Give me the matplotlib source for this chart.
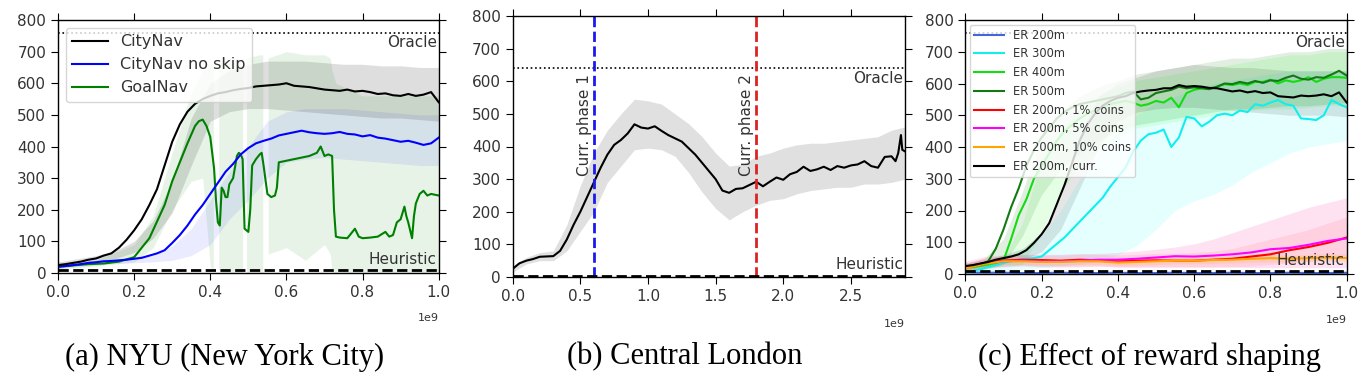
import numpy as np
import matplotlib.pyplot as plt

# ---------------- data ----------------
# (a) NYU
xa = np.linspace(0, 1.0, 51)
citynav = [25, 28, 32, 36, 42, 46, 55, 62, 80, 105, 135, 170, 215, 265, 340, 415, 470, 510, 535, 550,
           560, 568, 572, 578, 582, 585, 590, 592, 594, 596, 600, 592, 590, 588, 584, 580, 578, 576, 580, 574,
           576, 572, 566, 568, 562, 560, 566, 560, 564, 572, 540]
noskip = [20, 22, 25, 28, 32, 34, 37, 38, 40, 42, 45, 48, 55, 62, 72, 95, 120, 150, 185, 215,
          250, 285, 320, 345, 375, 395, 410, 418, 425, 435, 440, 445, 450, 445, 442, 440, 442, 446, 440, 438,
          432, 436, 428, 425, 420, 415, 418, 412, 405, 410, 428]
xg = [0, .04, .08, .12, .16, .20, .24, .28, .30, .32, .34, .36, .37, .38, .39, .40, .41, .415, .42, .425,
      .43, .435, .44, .445, .45, .46, .47, .475, .48, .485, .49, .50, .505, .51, .52, .53, .535, .54, .55, .56,
      .57, .575, .58, .60, .62, .64, .66, .68, .69, .70, .71, .72, .725, .73, .74, .76, .78, .79, .80, .82,
      .84, .86, .87, .88, .89, .90, .91, .915, .92, .93, .935, .94, .95, .96, .97, .98, 1.0]
goalnav = [20, 24, 28, 30, 36, 50, 110, 215, 290, 350, 410, 465, 480, 485, 465, 430, 330, 230, 160, 150,
           270, 260, 240, 240, 280, 300, 370, 380, 375, 360, 140, 130, 200, 340, 360, 375, 380, 340, 250, 240,
           245, 270, 350, 355, 360, 365, 370, 380, 400, 370, 375, 370, 200, 115, 112, 110, 140, 115, 110, 112,
           115, 130, 115, 120, 160, 170, 210, 180, 160, 110, 180, 220, 250, 260, 245, 250, 245]

xb_a = np.linspace(0, 1.0, 21)
citynav_lo = [15, 25, 35, 45, 65, 110, 190, 340, 480, 510, 520, 520, 515, 510, 505, 500, 495, 490, 490, 485, 480]
citynav_hi = [35, 45, 55, 70, 100, 165, 290, 490, 600, 640, 660, 670, 670, 670, 665, 660, 660, 655, 655, 650, 650]
noskip_lo = [15, 20, 25, 30, 32, 35, 40, 55, 90, 170, 230, 300, 350, 360, 365, 360, 355, 350, 345, 340, 340]
noskip_hi = [28, 35, 40, 45, 50, 60, 85, 140, 230, 320, 400, 480, 510, 520, 520, 520, 515, 510, 505, 500, 500]
gband_x = [0, .1, .2, .25, .3, .35, .38, .40, .408, .408, .422, .422, .43, .485, .485, .495, .495, .53,
           .538, .538, .552, .552, .6, .65, .7, .715, .72, .73, .8, .9, 1.0]
goal_lo = [12, 22, 35, 80, 200, 290, 300, 20, 10, 300, 160, 10, 0, 0, 360, 130, 0, 0,
           0, 340, 250, 60, 80, 40, 90, 60, 0, 0, 0, 0, 0]
goal_hi = [30, 40, 90, 180, 380, 570, 640, 660, 660, 300, 160, 660, 680, 680, 360, 130, 680, 690,
           690, 340, 250, 680, 700, 690, 690, 680, 640, 600, 560, 560, 560]

# (b) Central London
xl = [0, .05, .1, .15, .2, .25, .3, .35, .4, .45, .5, .55, .6, .65, .7, .75, .8, .85, .9, .95,
      1.0, 1.05, 1.1, 1.15, 1.2, 1.25, 1.3, 1.35, 1.4, 1.45, 1.5, 1.55, 1.6, 1.65, 1.7, 1.75, 1.8, 1.85, 1.9, 1.95,
      2.0, 2.05, 2.1, 2.15, 2.2, 2.25, 2.3, 2.35, 2.4, 2.45, 2.5, 2.55, 2.6, 2.65, 2.7, 2.75, 2.8, 2.83, 2.85, 2.87,
      2.88, 2.9]
london = [25, 42, 50, 55, 62, 63, 64, 80, 115, 160, 200, 245, 290, 335, 375, 405, 420, 440, 468, 458,
          455, 462, 448, 435, 425, 415, 395, 375, 350, 325, 300, 265, 258, 270, 272, 282, 292, 278, 292, 305,
          298, 315, 322, 338, 325, 330, 338, 328, 340, 335, 342, 345, 355, 340, 335, 368, 370, 355, 380, 435,
          390, 385]
xl_band = np.linspace(0, 2.9, 30)
london_lo = [15, 40, 50, 50, 80, 140, 200, 290, 340, 390, 395, 390, 370, 320, 260, 210, 175, 200, 220, 235,
             240, 255, 265, 270, 275, 275, 285, 285, 290, 300]
london_hi = [35, 60, 75, 80, 160, 280, 380, 450, 500, 545, 540, 530, 500, 470, 430, 380, 340, 345, 370, 380,
             395, 405, 410, 410, 415, 420, 425, 430, 450, 460]
phases = [0.6, 1.8]

# (c) reward shaping
xc = np.linspace(0, 1.0, 51)
er500 = [20, 25, 30, 40, 80, 140, 210, 270, 340, 390, 430, 460, 490, 510, 525, 535, 540, 545, 550, 555,
         560, 570, 575, 550, 555, 570, 575, 580, 590, 585, 588, 585, 582, 590, 600, 598, 605, 600, 608, 602,
         610, 608, 618, 625, 615, 612, 620, 618, 628, 640, 625]
er400 = [20, 22, 26, 30, 35, 42, 110, 185, 235, 300, 340, 380, 420, 450, 470, 490, 505, 515, 525, 535,
         540, 545, 540, 530, 535, 545, 540, 555, 525, 570, 580, 585, 585, 590, 598, 595, 600, 595, 605, 605,
         612, 600, 610, 605, 610, 620, 605, 615, 620, 620, 618]
er300 = [5, 10, 15, 22, 28, 35, 40, 45, 48, 50, 55, 75, 95, 115, 140, 165, 190, 215, 240, 275,
         305, 335, 385, 420, 440, 445, 455, 400, 430, 495, 490, 465, 480, 500, 505, 500, 515, 510, 535, 530,
         540, 548, 535, 530, 490, 488, 485, 500, 548, 535, 525]
curr = [25, 28, 33, 38, 45, 50, 55, 62, 75, 98, 125, 160, 220, 280, 350, 420, 470, 505, 530, 545,
        555, 560, 570, 575, 578, 580, 585, 585, 595, 590, 592, 590, 586, 585, 580, 575, 578, 572, 576, 570,
        572, 560, 558, 556, 562, 560, 562, 566, 560, 572, 540]
xs = np.linspace(0, 1.0, 21)
er200 = [5, 4, 4, 3, 3, 4, 3, 3, 4, 3, 3, 4, 3, 3, 4, 3, 3, 4, 3, 3, 4]
coins1 = [22, 35, 42, 45, 44, 42, 45, 43, 40, 42, 43, 42, 42, 45, 48, 55, 62, 75, 85, 98, 115]
coins5 = [20, 33, 40, 42, 40, 40, 42, 45, 45, 48, 52, 56, 55, 58, 62, 68, 78, 82, 92, 104, 112]
coins10 = [18, 32, 40, 40, 38, 38, 40, 40, 36, 38, 40, 42, 42, 44, 45, 48, 50, 48, 50, 52, 50]
coins1_lo = [10, 20, 25, 28, 25, 25, 25, 25, 22, 22, 22, 22, 22, 22, 22, 25, 30, 35, 40, 45, 50]
coins1_hi = [35, 50, 58, 60, 60, 60, 62, 62, 60, 62, 65, 65, 68, 72, 80, 95, 110, 125, 140, 160, 180]
coins5_lo = [10, 18, 22, 25, 22, 22, 22, 25, 22, 22, 22, 22, 22, 22, 22, 20, 20, 20, 20, 20, 20]
coins5_hi = [40, 55, 60, 62, 62, 62, 65, 65, 68, 72, 78, 85, 95, 110, 130, 150, 170, 190, 210, 225, 240]
coins10_lo = [10, 22, 30, 30, 28, 28, 30, 30, 27, 28, 30, 32, 32, 33, 35, 37, 38, 37, 38, 40, 38]
coins10_hi = [26, 42, 50, 50, 48, 48, 50, 50, 46, 48, 50, 52, 52, 55, 56, 59, 62, 59, 62, 64, 62]
er300_lo = [0, 5, 10, 15, 20, 25, 30, 40, 60, 90, 140, 200, 230, 250, 280, 320, 350, 380, 400, 410, 420]
er300_hi = [15, 30, 55, 80, 120, 200, 300, 380, 450, 500, 540, 560, 580, 600, 610, 620, 630, 640, 640, 640, 640]
er500_lo = [10, 15, 30, 120, 250, 330, 380, 420, 450, 470, 480, 490, 500, 510, 520, 520, 525, 530, 530, 535, 540]
er500_hi = [30, 50, 110, 260, 430, 510, 560, 590, 610, 630, 640, 650, 660, 670, 680, 680, 690, 700, 700, 710, 710]
er400_lo = [10, 15, 25, 30, 130, 260, 340, 390, 430, 460, 470, 480, 490, 500, 510, 515, 520, 520, 525, 530, 530]
er400_hi = [30, 35, 50, 160, 360, 450, 520, 560, 590, 610, 620, 630, 640, 650, 660, 670, 680, 690, 690, 700, 700]
curr_lo = [15, 25, 35, 45, 70, 140, 270, 400, 480, 510, 520, 525, 525, 520, 515, 510, 505, 500, 500, 500, 495]
curr_hi = [35, 45, 60, 80, 130, 240, 440, 560, 600, 620, 640, 650, 660, 655, 650, 650, 645, 640, 640, 640, 640]

oracle = [760, 640, 760]
heuristic = [8, 4, 8]
captions = ["(a) NYU (New York City)", "(b) Central London", "(c) Effect of reward shaping"]

# ---------------- plot ----------------
W, H = 1370, 379
fig = plt.figure(figsize=(W / 100, H / 100), dpi=100)
tcol = "#333333"


def px_axes(l, r, t, b):
    return fig.add_axes([l / W, 1 - b / H, (r - l) / W, (b - t) / H])


axa = px_axes(58, 438.7, 20, 273)
axb = px_axes(512.7, 905, 16, 277)
axc = px_axes(965.3, 1346.7, 20, 274)
axes = [axa, axb, axc]

S = 1e9
# (a)
axa.fill_between(np.array(xb_a) * S, citynav_lo, citynav_hi, color="black", alpha=0.13, lw=0)
axa.fill_between(np.array(xb_a) * S, noskip_lo, noskip_hi, color="blue", alpha=0.08, lw=0)
axa.fill_between(np.array(gband_x) * S, goal_lo, goal_hi, color="green", alpha=0.09, lw=0)
hg, = axa.plot(np.array(xg) * S, goalnav, color="green", lw=1.5)
hn, = axa.plot(xa * S, noskip, color="blue", lw=1.5)
hk, = axa.plot(xa * S, citynav, color="black", lw=1.5)
la = axa.legend([hk, hn, hg], ["CityNav", "CityNav no skip", "GoalNav"], loc="upper left",
                fontsize=11.5, framealpha=0.8, edgecolor="#cccccc", fancybox=True, handlelength=2.2)
for t in la.get_texts():
    t.set_color(tcol)

# (b)
axb.fill_between(np.array(xl_band) * S, london_lo, london_hi, color="black", alpha=0.12, lw=0)
axb.plot(np.array(xl) * S, london, color="black", lw=1.5)
axb.axvline(phases[0] * S, color="#1a1aee", ls="--", lw=2)
axb.axvline(phases[1] * S, color="#dd2222", ls="--", lw=2)
for i, p in enumerate(phases):
    axb.text(p * S - 0.015 * S, 622, "Curr. phase %d" % (i + 1), rotation=90, ha="right", va="top",
             fontsize=11, color=tcol)

# (c)
axc.fill_between(xs * S, er300_lo, er300_hi, color="cyan", alpha=0.1, lw=0)
axc.fill_between(xs * S, er500_lo, er500_hi, color="green", alpha=0.12, lw=0)
axc.fill_between(xs * S, er400_lo, er400_hi, color="lime", alpha=0.1, lw=0)
axc.fill_between(xs * S, curr_lo, curr_hi, color="black", alpha=0.1, lw=0)
axc.fill_between(xs * S, coins1_lo, coins1_hi, color="red", alpha=0.08, lw=0)
axc.fill_between(xs * S, coins5_lo, coins5_hi, color="deeppink", alpha=0.12, lw=0)
axc.fill_between(xs * S, coins10_lo, coins10_hi, color="orange", alpha=0.15, lw=0)
hc = []
hc += axc.plot(xs * S, er200, color="#4466dd", lw=1.5, label="ER 200m")
hc += axc.plot(xc * S, er300, color="#11eeee", lw=1.5, label="ER 300m")
hc += axc.plot(xc * S, er400, color="#11dd11", lw=1.5, label="ER 400m")
hc += axc.plot(xc * S, er500, color="#137a13", lw=1.5, label="ER 500m")
hc += axc.plot(xs * S, coins1, color="red", lw=1.5, label="ER 200m, 1% coins")
hc += axc.plot(xs * S, coins5, color="magenta", lw=1.5, label="ER 200m, 5% coins")
hc += axc.plot(xs * S, coins10, color="orange", lw=1.5, label="ER 200m, 10% coins")
hc += axc.plot(xc * S, curr, color="black", lw=1.5, label="ER 200m, curr.")
lc = axc.legend(handles=hc, loc="upper left", fontsize=8.3, framealpha=0.8, edgecolor="#cccccc",
                fancybox=True, handlelength=2.6, labelspacing=0.5, borderaxespad=0.4,
                borderpad=0.35)
for t in lc.get_texts():
    t.set_color(tcol)

xmax = [1.0, 2.9, 1.0]
xt = [[0, .2, .4, .6, .8, 1.0], [0, .5, 1.0, 1.5, 2.0, 2.5], [0, .2, .4, .6, .8, 1.0]]
for ax, o, h, xm, ticks in zip(axes, oracle, heuristic, xmax, xt):
    ax.axhline(o, color="black", ls=":", lw=1.2, zorder=1)
    ax.axhline(h, color="black", ls="--", lw=2, zorder=3)
    ax.text(0.995, (o - 8) / 800, "Oracle", transform=ax.transAxes, ha="right", va="top",
            fontsize=11, color=tcol)
    ax.text(0.995, (h + 10) / 800, "Heuristic", transform=ax.transAxes, ha="right", va="bottom",
            fontsize=11, color=tcol)
    ax.set_xlim(0, xm * S)
    ax.set_ylim(0, 800)
    ax.set_xticks(np.array(ticks) * S)
    ax.set_xticklabels(["%.1f" % v for v in ticks])
    ax.set_yticks(range(0, 801, 100))
    ax.tick_params(direction="out", length=5, width=0.8, top=True, right=True,
                   labelsize=11, labelcolor=tcol, color="black")
    for sp in ax.spines.values():
        sp.set_linewidth(1.0)
    ax.text(1.0, -0.16, "1e9", transform=ax.transAxes, ha="right", va="top", fontsize=8, color=tcol)

centers = [225, 685, 1150]
for c, cap in zip(centers, captions):
    fig.text(c / W, 1 - 357 / H, cap, ha="center", va="center", fontsize=22,
             family="Liberation Serif")

fig.savefig("out.png", dpi=100)
